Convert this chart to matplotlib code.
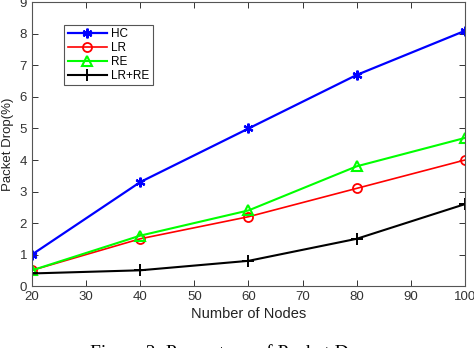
import matplotlib
matplotlib.use("Agg")
import matplotlib.pyplot as plt

nodes = [20, 40, 60, 80, 100]
hc = [1.0, 3.3, 5.0, 6.7, 8.1]
lr = [0.5, 1.5, 2.2, 3.1, 4.0]
re = [0.5, 1.6, 2.4, 3.8, 4.7]
lr_re = [0.4, 0.5, 0.8, 1.5, 2.6]

plt.rcParams['font.family'] = ['Liberation Sans', 'DejaVu Sans']

fig = plt.figure(figsize=(4.74, 3.48), dpi=100)
ax = fig.add_axes([0.0675, 0.178, 0.9135, 0.815])

ax.plot(nodes, hc, color='#0000ff', marker=(6, 2, 0), markersize=7, lw=1.6, mew=1.6, label='HC')
ax.plot(nodes, lr, color='#ff0000', marker='o', markersize=6.5, mfc='none', lw=1.2, mew=1.3, label='LR')
ax.plot(nodes, re, color='#00ff00', marker='^', markersize=7, mfc='none', lw=1.5, mew=1.5, label='RE')
ax.plot(nodes, lr_re, color='black', marker='+', markersize=8, lw=1.5, mew=1.4, label='LR+RE')

ax.set_xlim(20, 100)
ax.set_ylim(0, 9)
ax.set_xticks(range(20, 101, 10))
ax.set_yticks(range(0, 10))
ax.tick_params(direction='in', top=True, right=True, labelsize=9.5, colors='#333333', length=4, width=0.7)
for s in ax.spines.values():
    s.set_color('#555555')
    s.set_linewidth(0.8)

ax.set_xlabel('Number of Nodes', fontsize=10.5, color='#222222', labelpad=3)
ax.set_ylabel('Packet Drop(%)', fontsize=9.5, color='#222222', labelpad=4)

leg = ax.legend(loc='upper left', bbox_to_anchor=(0.074, 0.921), borderaxespad=0, fontsize=8.5,
                fancybox=False, framealpha=1, edgecolor='#555555',
                handlelength=3.3, handletextpad=0.4, borderpad=0.3, labelspacing=0.15)
leg.get_frame().set_linewidth(0.8)

fig.text(0.49, -0.04, 'Figure 2: Percentage of Packet Drop', ha='center', va='bottom',
         fontsize=14, family=['Liberation Serif', 'DejaVu Serif'])

fig.savefig('out.png', dpi=100)
